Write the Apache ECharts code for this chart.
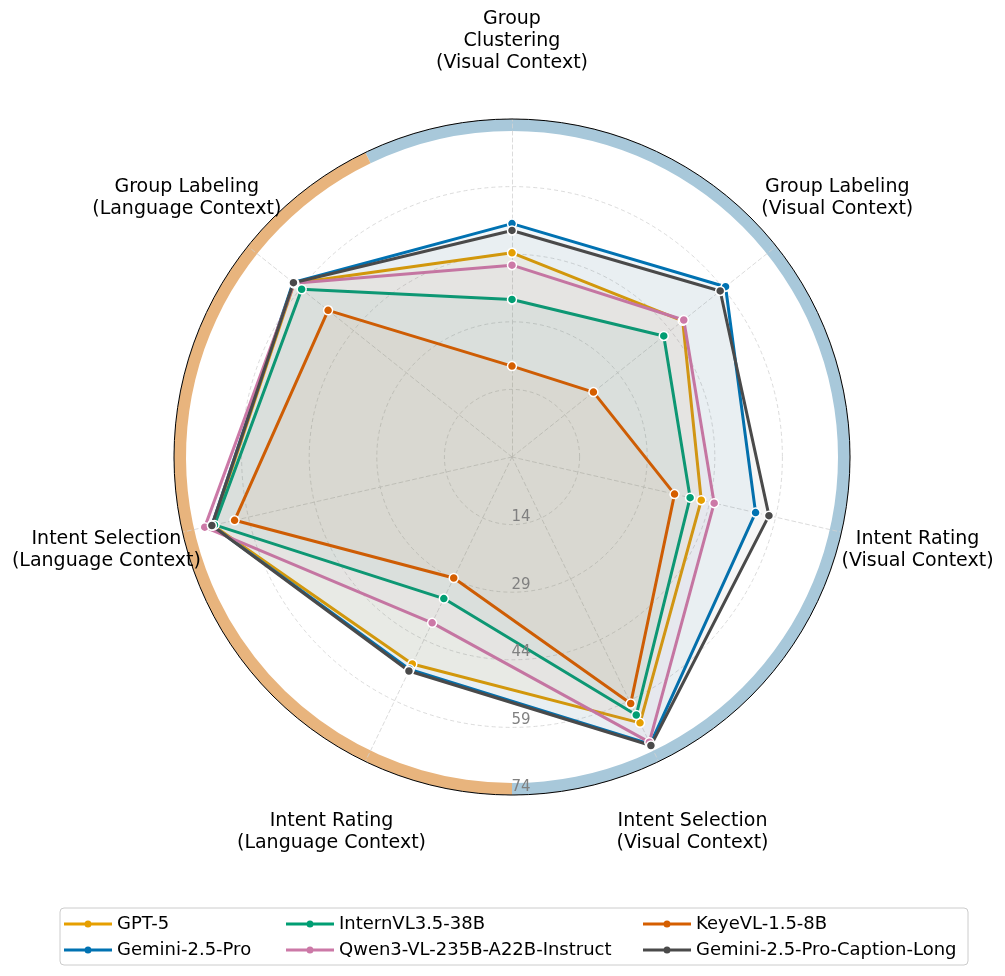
<!DOCTYPE html>
<html><head><meta charset="utf-8">
<script src="https://cdn.jsdelivr.net/npm/echarts@6/dist/echarts.min.js"></script>
<style>html,body{margin:0;padding:0;background:#fff}#c{width:1005px;height:976px}</style>
</head><body><div id="c"></div>
<script>
// Categories listed clockwise from the top
const categories = [
  'Group\nClustering\n(Visual Context)',
  'Group Labeling\n(Visual Context)',
  'Intent Rating\n(Visual Context)',
  'Intent Selection\n(Visual Context)',
  'Intent Rating\n(Language Context)',
  'Intent Selection\n(Language Context)',
  'Group Labeling\n(Language Context)'
];
const contexts = ['Visual', 'Visual', 'Visual', 'Visual', 'Language', 'Language', 'Language'];
const models = ['GPT-5', 'Gemini-2.5-Pro', 'InternVL3.5-38B', 'Qwen3-VL-235B-A22B-Instruct', 'KeyeVL-1.5-8B', 'Gemini-2.5-Pro-Caption-Long'];
const gpt5        = [44.7, 47.8, 42.5, 64.6, 50.3, 67.2, 61.0];
const gemini      = [51.1, 59.8, 54.7, 69.8, 51.6, 67.4, 61.3];
const internvl    = [34.5, 42.5, 40.0, 62.7, 34.4, 66.8, 58.9];
const qwen        = [42.0, 48.1, 45.4, 69.3, 40.3, 69.0, 61.0];
const keye        = [19.9, 22.8, 36.5, 59.9, 29.4, 62.3, 51.5];
const geminiCap   = [49.6, 58.3, 57.7, 70.1, 52.0, 67.4, 61.2];
const seriesValues = [gpt5, gemini, internvl, qwen, keye, geminiCap];
const colors = ['#E69F00', '#0072B2', '#009E73', '#CC79A7', '#D55E00', '#4a4a4a'];
const tickLabels = ['14', '29', '44', '59', '74'];
const radialMax = 74;

const CX = 512, CY = 457, R = 338;
const n = categories.length;
// radar places indicators counter-clockwise; reorder to get clockwise layout
const order = categories.map((_, i) => (n - i) % n);

const chart = echarts.init(document.getElementById('c'), null, {renderer: 'canvas'});
const font = 'DejaVu Sans';

const legendOrder = [0, 2, 4, 1, 3, 5];
const colOf = {};
models.forEach((m, i) => { colOf[m] = Math.floor(i / 2) + 1; });

const visualCount = contexts.filter(c => c === 'Visual').length;
const languageCount = contexts.filter(c => c === 'Language').length;

const option = {
  backgroundColor: '#fff',
  animation: false,
  radar: {
    z: 3,
    center: [CX, CY],
    radius: R,
    startAngle: 90,
    shape: 'circle',
    splitNumber: 5,
    indicator: order.map(i => ({name: categories[i], min: 0, max: radialMax})),
    axisNameGap: 78,
    axisName: {
      color: '#000', fontSize: 19, lineHeight: 22, fontFamily: font,
      align: 'center', verticalAlign: 'middle'
    },
    axisLine: {lineStyle: {color: '#d2d2d2', type: [4, 3], width: 0.8}},
    axisTick: {show: false},
    axisLabel: {show: false},
    splitLine: {lineStyle: {color: '#d2d2d2', type: [4, 3], width: 0.8}},
    splitArea: {show: false}
  },
  polar: {center: [CX, CY], radius: R, z: 6},
  angleAxis: {
    type: 'value', min: 0, max: 360, startAngle: -90, z: 6,
    axisLine: {show: true, lineStyle: {color: '#000', width: 1}},
    axisTick: {show: false}, axisLabel: {show: false}, splitLine: {show: false}
  },
  radiusAxis: {
    type: 'value', min: 0, max: radialMax, interval: radialMax / tickLabels.length, z: 6,
    axisLine: {show: false}, axisTick: {show: false}, splitLine: {show: false},
    axisLabel: {
      color: '#808080', fontSize: 15, fontFamily: font, margin: 9,
      align: 'center', verticalAlign: 'bottom', lineHeight: 15,
      showMinLabel: true, showMaxLabel: true,
      formatter: (v, idx) => idx === 0 ? '' : tickLabels[idx - 1]
    }
  },
  legend: {
    left: 60, top: 908, width: 895,
    orient: 'horizontal',
    padding: [7, 10, 6, 4],
    itemGap: 8,
    itemWidth: 48, itemHeight: 10,
    borderColor: '#cccccc', borderWidth: 1, borderRadius: 4,
    icon: 'path://M0,3.6h48v2.8h-48z M20.5,5a3.5,3.5 0 1,1 7,0a3.5,3.5 0 1,1 -7,0z',
    itemStyle: {borderWidth: 0},
    data: legendOrder.map(i => models[i]),
    formatter: name => '{w' + colOf[name] + '|' + name + '}',
    textStyle: {
      fontSize: 18, fontFamily: font, color: '#000', lineHeight: 18,
      rich: {
        w1: {width: 161, fontSize: 18, fontFamily: font, color: '#000', lineHeight: 18},
        w2: {width: 296, fontSize: 18, fontFamily: font, color: '#000', lineHeight: 18},
        w3: {width: 262, fontSize: 18, fontFamily: font, color: '#000', lineHeight: 18}
      }
    }
  },
  series: [
    {
      type: 'pie', z: 1, silent: true,
      center: [CX, CY], radius: [326, R],
      startAngle: 90 + 180 / n, clockwise: true,
      label: {show: false}, labelLine: {show: false},
      itemStyle: {borderWidth: 0},
      emphasis: {disabled: true},
      data: [
        {name: 'Visual Context', value: visualCount, itemStyle: {color: '#a8c8da'}},
        {name: 'Language Context', value: languageCount, itemStyle: {color: '#e8b47d'}}
      ]
    },
    {
      type: 'radar', z: 4,
      symbol: 'circle', symbolSize: 9,
      data: seriesValues.map((vals, s) => ({
        name: models[s],
        value: order.map(i => vals[i]),
        lineStyle: {color: colors[s], width: 3},
        itemStyle: {color: colors[s], borderColor: '#fff', borderWidth: 1.5},
        areaStyle: {color: colors[s], opacity: 0.05}
      }))
    }
  ]
};
chart.setOption(option);
</script>
</body></html>
